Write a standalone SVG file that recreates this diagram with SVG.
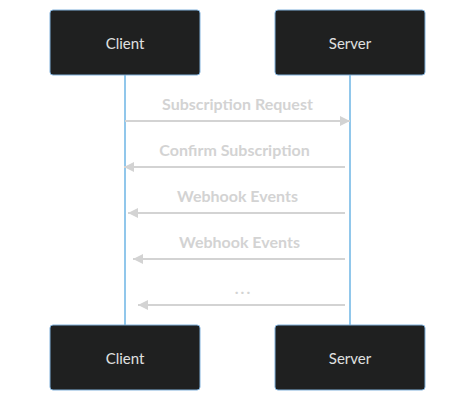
<svg xmlns="http://www.w3.org/2000/svg" width="475" height="401" viewBox="0 0 475 401">
<style>
.actor{fill:#1f2020;stroke:#81b1db;stroke-width:1}
.atext{font-family:Lato,"Liberation Sans",sans-serif;font-size:15px;fill:#e0e0e0;text-anchor:middle;dominant-baseline:central}
.life{stroke:#6cb4e4;stroke-width:1.5;fill:none}
.msg{stroke:#d3d3d3;stroke-width:2;fill:none}
.mtext{font-family:Lato,"Liberation Sans",sans-serif;font-size:16px;font-weight:bold;fill:#d3d3d3;text-anchor:middle}
</style>
<defs>
<marker id="arrow" viewBox="0 0 10 10" refX="10" refY="5" markerUnits="userSpaceOnUse" markerWidth="10" markerHeight="11" orient="auto">
<path d="M0,0 L10,5 L0,10 z" fill="#d3d3d3"/>
</marker>
</defs>
<rect width="475" height="401" fill="#ffffff"/>
<g id="lifelines">
<line class="life" x1="125" y1="75" x2="125" y2="325"/>
<line class="life" x1="350" y1="75" x2="350" y2="325"/>
</g>
<g id="client-top"><rect class="actor" x="50" y="10" width="150" height="65" rx="3"/><text class="atext" x="125" y="43">Client</text></g>
<g id="server-top"><rect class="actor" x="275" y="10" width="150" height="65" rx="3"/><text class="atext" x="350" y="43">Server</text></g>
<g id="client-bottom"><rect class="actor" x="50" y="325" width="150" height="65" rx="3"/><text class="atext" x="125" y="358">Client</text></g>
<g id="server-bottom"><rect class="actor" x="275" y="325" width="150" height="65" rx="3"/><text class="atext" x="350" y="358">Server</text></g>
<g id="connectors">
<line class="msg" x1="125" y1="121" x2="350" y2="121" marker-end="url(#arrow)"/>
<line class="msg" x1="345" y1="167" x2="124" y2="167" marker-end="url(#arrow)"/>
<line class="msg" x1="345" y1="213" x2="128" y2="213" marker-end="url(#arrow)"/>
<line class="msg" x1="345" y1="259" x2="133" y2="259" marker-end="url(#arrow)"/>
<line class="msg" x1="345" y1="305" x2="138" y2="305" marker-end="url(#arrow)"/>
</g>
<g id="labels">
<text class="mtext" x="237.5" y="110">Subscription Request</text>
<text class="mtext" x="234.5" y="156">Confirm Subscription</text>
<text class="mtext" x="237.5" y="202">Webhook Events</text>
<text class="mtext" x="239.5" y="248">Webhook Events</text>
<text class="mtext" x="243.5" y="294" letter-spacing="2">...</text>
</g>
</svg>
